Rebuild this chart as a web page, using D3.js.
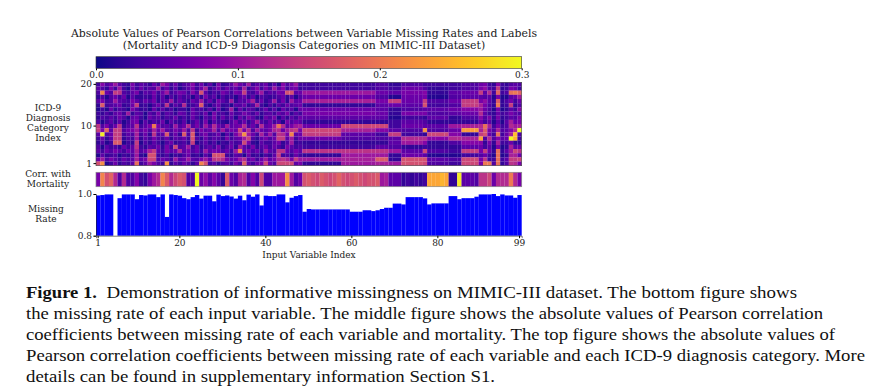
<!DOCTYPE html>
<html>
<head>
<meta charset="utf-8">
<script src="https://d3js.org/d3.v7.min.js"></script>
<style>
  html, body { margin: 0; padding: 0; background: #fff; }
  svg { display: block; }
  .axis text { font-family: "DejaVu Serif"; font-size: 9px; fill: #222; }
  .label { font-family: "DejaVu Serif"; font-size: 9px; fill: #222; text-anchor: middle; }
  .caption { font-family: "Liberation Serif"; font-size: 17px; fill: #111; }
</style>
</head>
<body>
<svg id="chart" width="878" height="386"></svg>
<script>
// Top heatmap, one string per ICD-9 category from 20 down to 1.
// Each character is one variable, base 36, in hundredths of a correlation (k = 0.20)
const heatRows = [
  "3846a53273 54263a7362 4583625172 35a64a3546 25184 6a3 333333333 33333333 444 222 44444 3 33333 333 4444 6732832454",
  "54273a3163 6354a36251 35736b2473 6463b25837 4a583672 333333333 33333333 444 333 66666 4 22222 333 4444 7943e23763",
  "4l64ed4357 254736a357 6384g52437 5376e436a3 5476gg56 aaaaaaaaa aaaaaaaa 666 555 77777 8 22222 555 6666 e5c3i34jki",
  "2414636152 2326251425 3415273514 2314625143 23462514 666666666 66666666 444 111 66666 7 11111 444 5555 545171156a",
  "5734a54375 3647254a36 4264a36275 3a2547b362 4a372a56 bbbbbbbbb bbbbbbbb 777 eee 66666 e 44444 666 eeee 7952h24736",
  "2h3456236e 231463d253 c235h31462 3154624b31 42536456 222222222 22222222 555 666 55555 g 33333 444 eeee b742k23e24",
  "1316243174 2316252413 3163425161 3a16254136 25163516 666666666 66666666 555 222 44444 5 55555 666 8888 a641712 538",
  "3242563a25 4153725426 5264361734 2634753624 53647253 777777777 77777777 666 222 77777 7 44444 555 6666 c532634754",
  "2435364156 3164524362 4263153726 3516375216 47152536 555555555 55555555 555 111 33333 2 55555 222 4444 8472723547",
  "4135251367 1524361532 5136271532 1473625a43 63517465 222222222 22222222 222 333 55555 4 22222 222 2222 6351515b67",
  "d4736d245d 357k7453a4 6c473a5c64 a567c463c5 6ajc57ab 666666666 ffffffff fff 333 66666 5 55555 aaa bbbb cjb3734cab",
  "e7i5ee467a 574b6a5475 a4d3756b4a 576f7c4a65 7bc6ade7 fffffffff bbbbbbbb 888 555 44444 m 44444 666 nnnn bh74b458cu",
  "5t46ee354b 362d45h362 h4h2573461 527cma63b5 a4dc7l56 eeeeeeeee 55555555 333 eee 33333 2 fffff 888 2222 eg63j36bq4",
  "3625ee243a 2537436254 63g4263542 7356ae4257 46ee5a36 666666666 44444444 444 555 ccccc c 88888 ccc bbbb o4c48 56up3",
  "2413hh132e 1425314623 42e1352413 2534f72153 35724a23 222222222 22222222 222 555 aaaaa 8 22222 444 8888 8272b33622",
  "4153426 35d 32546273f4 5a36245372 462a537246 36427534 333333333 33333333 555 444 22222 3 22222 222 5555 6351712b56",
  "536475365b 46be53756c 57463a5764 63al57463a 54dd6475 ddddddddd dddddddd ddd aaa 55555 f 44444 333 eeee 7e62j25afd",
  "152341324a 21gg324132 4623152ggg 3254162314 25e34263 222222222 aaaaaaaa aaa 222 66666 5 11111 111 3333 4631j12bb6",
  "6a4753645b 57ff4653a5 6a547a6dec 756ac5736a 57cdb7ea aaaaaaaaa bbbbbbbb hhh 222 ggggg g 55555 444 ffff 7d33j35eef",
  "gm1362435j 35a743m253 6425lg3524 5374h5367f 64ffff57 222222222 aaaaaaaa bbb aaa ggggg f 44444 333 ffff 7kk4j24dc7"
];

// Correlation with mortality per variable, in hundredths
const mortality = [
  7, 21, 16, 18, 12, 4, 12, 4, 4, 8, 3, 2, 7, 10, 12, 21, 17, 12, 15, 17,
  16, 4, 4, 30, 6, 9, 5, 8, 5, 2, 17, 6, 4, 11, 12, 4, 8, 4, 15, 4,
  4, 10, 10, 10, 22, 10, 4, 6, 16, 17, 16, 15, 17, 16, 15, 16, 18, 16, 15, 16,
  17, 16, 15, 16, 16, 17, 10, 11, 5, 5, 5, 2, 3, 2, 3, 2, 3, 24, 24, 24,
  25, 24, 2, 2, 29, 5, 5, 5, 4, 13, 13, 15, 6, 12, 12, 12, 20, 12, 7
];

// Missing rate per variable (variable 5 falls below the axis)
const missingRate = [
  0.993, 0.995, 0.998, 0.998, 0.79, 0.98, 0.998, 0.998, 0.998, 0.975,
  0.995, 0.993, 0.998, 0.998, 0.985, 0.998, 0.89, 0.998, 0.995, 0.992,
  0.98, 0.975, 0.985, 0.995, 0.978, 0.992, 0.992, 0.965, 0.997, 0.99,
  0.993, 0.988, 0.978, 0.992, 0.97, 0.997, 0.987, 0.998, 0.945, 0.992,
  0.99, 0.99, 0.998, 0.998, 0.96, 0.982, 0.99, 0.995, 0.915, 0.928,
  0.926, 0.926, 0.926, 0.926, 0.926, 0.926, 0.926, 0.926, 0.926, 0.915,
  0.915, 0.915, 0.922, 0.922, 0.918, 0.922, 0.928, 0.934, 0.934, 0.954,
  0.954, 0.95, 0.985, 0.985, 0.985, 0.985, 0.979, 0.95, 0.955, 0.955,
  0.955, 0.955, 0.99, 0.99, 0.975, 0.98, 0.98, 0.98, 0.987, 0.998,
  0.998, 0.998, 1.0, 0.99, 0.998, 0.993, 0.993, 0.982, 0.995
];

const variableTicks = [1, 20, 40, 60, 80, 99];
const categoryTicks = [1, 10, 20];
const rateTicks = [0.8, 1.0];
const colorTicks = [0, 0.1, 0.2, 0.3];

const titleLines = [
  "Absolute Values of Pearson Correlations between Variable Missing Rates and Labels",
  "(Mortality and ICD-9 Diagonsis Categories on MIMIC-III Dataset)"
];
const captionHead = "Figure 1.";
const captionLines = [
  "Demonstration of informative missingness on MIMIC-III dataset. The bottom figure shows",
  "the missing rate of each input variable. The middle figure shows the absolute values of Pearson correlation",
  "coefficients between missing rate of each variable and mortality. The top figure shows the absolute values of",
  "Pearson correlation coefficients between missing rate of each variable and each ICD-9 diagnosis category. More",
  "details can be found in supplementary information Section S1."
];

const svg = d3.select("#chart");

// Shared panel extents
const left = 96, right = 521.7;
const seam = 0.1; // small overlap so neighbouring cells only show a faint seam
const variables = d3.range(1, 100);
const categories = d3.range(20, 0, -1);

const xScale = d3.scaleBand().domain(variables).range([left, right]);
const colorScale = d3.scaleSequential(d3.interpolatePlasma).domain([0, 0.3]);

// Title
svg.append("g").selectAll("text")
  .data(titleLines)
  .join("text")
  .attr("class", "label")
  .attr("x", 304)
  .attr("y", (d, i) => 36.5 + i * 12)
  .style("font-size", "10.9px")
  .text(d => d);

// Colorbar
const barTop = 56.7, barBottom = 68.3;
const gradient = svg.append("defs").append("linearGradient")
  .attr("id", "plasma-gradient")
  .attr("x1", "0%").attr("y1", "0%")
  .attr("x2", "100%").attr("y2", "0%");
d3.range(0, 1.001, 0.05).forEach(t => {
  gradient.append("stop")
    .attr("offset", `${t * 100}%`)
    .attr("stop-color", d3.interpolatePlasma(t));
});
svg.append("rect")
  .attr("x", left)
  .attr("y", barTop)
  .attr("width", right - left)
  .attr("height", barBottom - barTop)
  .attr("fill", "url(#plasma-gradient)")
  .attr("stroke", "#333")
  .attr("stroke-width", 0.6);

const colorAxisScale = d3.scaleLinear().domain([0, 0.3]).range([left, right]);
svg.append("g")
  .attr("class", "axis")
  .attr("transform", `translate(0, ${barBottom})`)
  .call(d3.axisBottom(colorAxisScale).tickValues(colorTicks).tickFormat(d3.format(".1f")).tickSize(2).tickPadding(1.5))
  .call(g => g.select(".domain").remove());

// Heatmap
const heatTop = 82.3, heatBottom = 165.7;
const yHeat = d3.scaleBand().domain(categories).range([heatTop, heatBottom]);
const heatCells = heatRows.flatMap((row, r) =>
  Array.from(row.replace(/ /g, "")).map((c, i) => ({
    category: categories[r],
    variable: variables[i],
    value: parseInt(c, 36) / 100
  }))
);
svg.append("g").selectAll("rect")
  .data(heatCells)
  .join("rect")
  .attr("x", d => xScale(d.variable))
  .attr("y", d => yHeat(d.category))
  .attr("width", d => xScale.bandwidth() + (d.variable < 99 ? seam : 0))
  .attr("height", d => yHeat.bandwidth() + (d.category > 1 ? seam : 0))
  .attr("fill", d => colorScale(d.value));
svg.append("rect")
  .attr("x", left).attr("y", heatTop)
  .attr("width", right - left).attr("height", heatBottom - heatTop)
  .attr("fill", "none").attr("stroke", "#444").attr("stroke-width", 0.6);
svg.append("g")
  .attr("class", "axis")
  .attr("transform", `translate(${left}, 0)`)
  .call(d3.axisLeft(yHeat).tickValues(categoryTicks).tickSize(2.5).tickPadding(1.5))
  .call(g => g.select(".domain").remove());

// Mortality strip
const stripTop = 172.3, stripBottom = 186.7;
svg.append("g").selectAll("rect")
  .data(mortality)
  .join("rect")
  .attr("x", (d, i) => xScale(variables[i]))
  .attr("y", stripTop)
  .attr("width", (d, i) => xScale.bandwidth() + (i < 98 ? seam : 0))
  .attr("height", stripBottom - stripTop)
  .attr("fill", d => colorScale(d / 100));
svg.append("rect")
  .attr("x", left).attr("y", stripTop)
  .attr("width", right - left).attr("height", stripBottom - stripTop)
  .attr("fill", "none").attr("stroke", "#888").attr("stroke-width", 0.7);

// Missing rate bars
const yRate = d3.scaleLinear().domain([0.8, 1.0]).range([235.7, 194]);
svg.append("g").selectAll("rect")
  .data(missingRate)
  .join("rect")
  .attr("x", (d, i) => xScale(variables[i]))
  .attr("y", d => yRate(Math.max(d, 0.8)))
  .attr("width", (d, i) => xScale.bandwidth() + (i < 98 ? seam : 0))
  .attr("height", d => yRate(0.8) - yRate(Math.max(d, 0.8)))
  .attr("fill", "#0000ff");
svg.append("g")
  .attr("class", "axis")
  .attr("transform", `translate(${left}, 0)`)
  .call(d3.axisLeft(yRate).tickValues(rateTicks).tickFormat(d3.format(".1f")).tickSize(2.5).tickPadding(1.5))
  .call(g => g.select(".domain").attr("stroke", "#222").attr("stroke-width", 0.6));
svg.append("g")
  .attr("class", "axis")
  .attr("transform", `translate(0, ${yRate(0.8)})`)
  .call(d3.axisBottom(xScale).tickValues(variableTicks).tickSize(2.5).tickPadding(1.5))
  .call(g => g.select(".domain").attr("stroke", "#222").attr("stroke-width", 0.6));

// Panel labels
const panelLabels = [
  { x: 48, y: 111, text: "ICD-9" },
  { x: 48, y: 121, text: "Diagnosis" },
  { x: 48, y: 131, text: "Category" },
  { x: 48, y: 141, text: "Index" },
  { x: 48, y: 177, text: "Corr. with" },
  { x: 48, y: 187, text: "Mortality" },
  { x: 46, y: 212, text: "Missing" },
  { x: 46, y: 222, text: "Rate" },
  { x: 309, y: 258, text: "Input Variable Index" }
];
svg.append("g").selectAll("text")
  .data(panelLabels)
  .join("text")
  .attr("class", "label")
  .attr("x", d => d.x)
  .attr("y", d => d.y)
  .text(d => d.text);

// Caption, each line fitted to the width it has in the figure
const captionBox = [
  { x: 106.5, width: 690.5 },
  { x: 26, width: 797 },
  { x: 26, width: 809 },
  { x: 26, width: 839 },
  { x: 26, width: 469 }
];
svg.append("text")
  .attr("class", "caption")
  .attr("x", 26)
  .attr("y", 298)
  .attr("textLength", 71)
  .attr("lengthAdjust", "spacingAndGlyphs")
  .style("font-weight", "bold")
  .text(captionHead);
svg.append("g").selectAll("text")
  .data(captionLines)
  .join("text")
  .attr("class", "caption")
  .attr("x", (d, i) => captionBox[i].x)
  .attr("y", (d, i) => 298 + i * 21)
  .attr("textLength", (d, i) => captionBox[i].width)
  .attr("lengthAdjust", "spacingAndGlyphs")
  .text(d => d);
</script>
</body>
</html>
